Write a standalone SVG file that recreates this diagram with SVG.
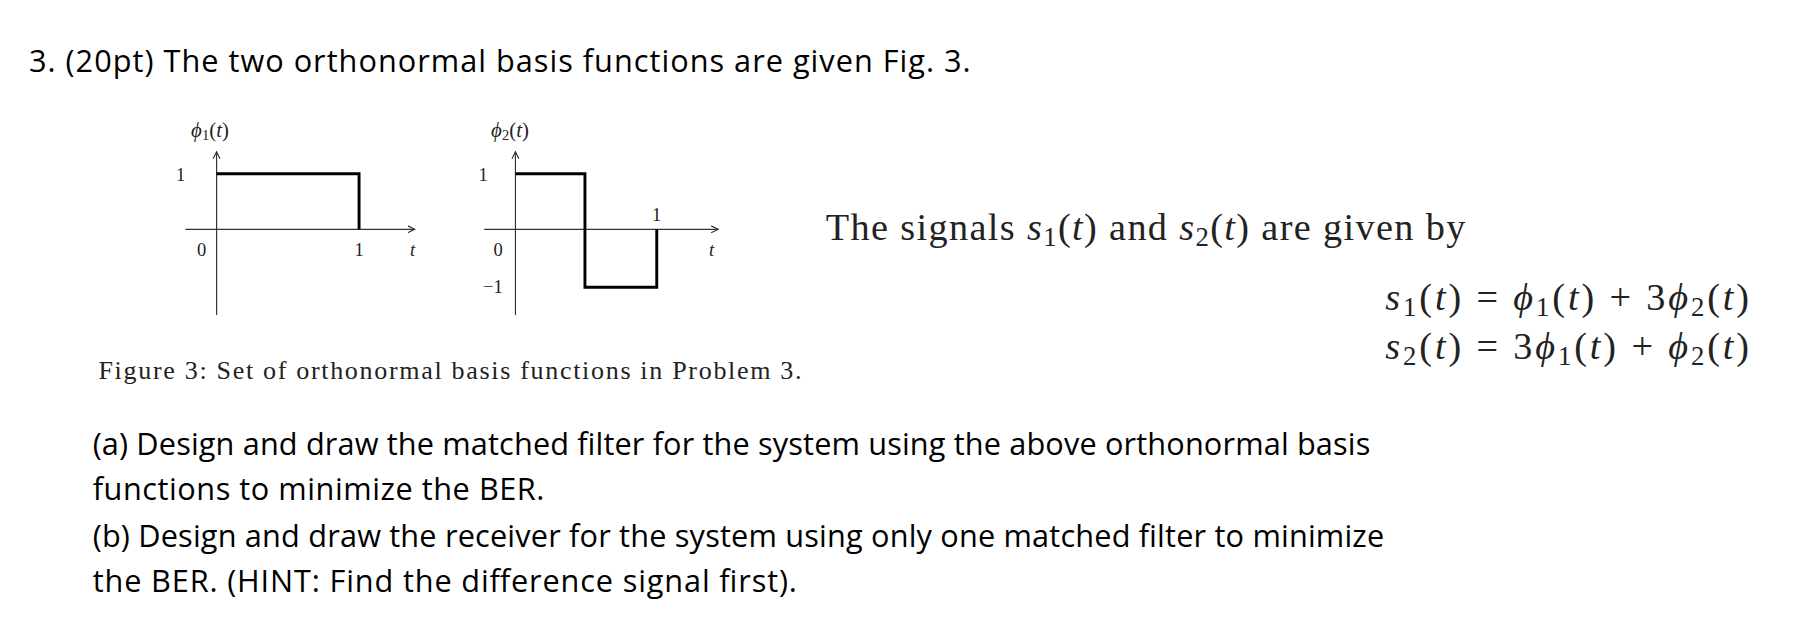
<svg xmlns="http://www.w3.org/2000/svg" width="1807" height="620" viewBox="0 0 1807 620">
<style>
.s{font-family:"Open Sans","Liberation Sans",sans-serif;font-size:26.5px;fill:#000}
.m{font-family:"Liberation Serif","DejaVu Serif",serif;fill:#222}
.i{font-style:italic}
.b{font-size:70%}
.ax{stroke:#333;stroke-width:1;fill:none}
.sig{stroke:#000;stroke-width:2.5;fill:none}
</style>
<defs><marker id="a" markerWidth="8" markerHeight="8" refX="6" refY="4" orient="auto"><path d="M0,1 L6,4 L0,7" fill="none" stroke="#333" stroke-width="1"/></marker></defs>
<rect width="1807" height="620" fill="#fff"/>
<g transform="scale(1.1583)">
<text class="s" x="25" y="62" textLength="813">3. (20pt) The two orthonormal basis functions are given Fig. 3.</text>
<g id="phi1">
<line class="ax" x1="187" y1="272" x2="187" y2="131" marker-end="url(#a)"/>
<line class="ax" x1="160" y1="198" x2="358" y2="198" marker-end="url(#a)"/>
<polyline class="sig" points="187,150 310,150 310,198"/>
<text class="m" font-size="18" x="165" y="118"><tspan class="i">ϕ</tspan><tspan class="b" dy="3">1</tspan><tspan dy="-3">(</tspan><tspan class="i">t</tspan>)</text>
<text class="m" font-size="16" x="152" y="156">1</text>
<text class="m" font-size="16" x="170" y="221">0</text>
<text class="m" font-size="16" x="306" y="221">1</text>
<text class="m i" font-size="16" x="354" y="221">t</text>
</g>
<g id="phi2">
<line class="ax" x1="445" y1="272" x2="445" y2="131" marker-end="url(#a)"/>
<line class="ax" x1="418" y1="198" x2="620" y2="198" marker-end="url(#a)"/>
<polyline class="sig" points="445,150 505,150 505,248 567,248 567,198"/>
<text class="m" font-size="18" x="424" y="118"><tspan class="i">ϕ</tspan><tspan class="b" dy="3">2</tspan><tspan dy="-3">(</tspan><tspan class="i">t</tspan>)</text>
<text class="m" font-size="16" x="413" y="156">1</text>
<text class="m" font-size="16" x="563" y="191">1</text>
<text class="m" font-size="16" x="426" y="221">0</text>
<text class="m" font-size="16" x="417" y="253">−1</text>
<text class="m i" font-size="16" x="612" y="221">t</text>
</g>
<text class="m" font-size="22.5" x="85" y="327" textLength="607">Figure 3: Set of orthonormal basis functions in Problem 3.</text>
<text class="m" font-size="33" x="713" y="207" textLength="552">The signals <tspan class="i">s</tspan><tspan class="b" dy="5">1</tspan><tspan dy="-5">(</tspan><tspan class="i">t</tspan>) and <tspan class="i">s</tspan><tspan class="b" dy="5">2</tspan><tspan dy="-5">(</tspan><tspan class="i">t</tspan>) are given by</text>
<text class="m" font-size="33" x="1196" y="268" textLength="314"><tspan class="i">s</tspan><tspan class="b" dy="5">1</tspan><tspan dy="-5">(</tspan><tspan class="i">t</tspan>) = <tspan class="i">ϕ</tspan><tspan class="b" dy="5">1</tspan><tspan dy="-5">(</tspan><tspan class="i">t</tspan>) + 3<tspan class="i">ϕ</tspan><tspan class="b" dy="5">2</tspan><tspan dy="-5">(</tspan><tspan class="i">t</tspan>)</text>
<text class="m" font-size="33" x="1196" y="310" textLength="314"><tspan class="i">s</tspan><tspan class="b" dy="5">2</tspan><tspan dy="-5">(</tspan><tspan class="i">t</tspan>) = 3<tspan class="i">ϕ</tspan><tspan class="b" dy="5">1</tspan><tspan dy="-5">(</tspan><tspan class="i">t</tspan>) + <tspan class="i">ϕ</tspan><tspan class="b" dy="5">2</tspan><tspan dy="-5">(</tspan><tspan class="i">t</tspan>)</text>
<text class="s" x="80" y="393" textLength="1103">(a) Design and draw the matched filter for the system using the above orthonormal basis</text>
<text class="s" x="80" y="432" textLength="390">functions to minimize the BER.</text>
<text class="s" x="80" y="472" textLength="1115">(b) Design and draw the receiver for the system using only one matched filter to minimize</text>
<text class="s" x="80" y="511" textLength="608">the BER. (HINT: Find the difference signal first).</text>
</g>
</svg>
